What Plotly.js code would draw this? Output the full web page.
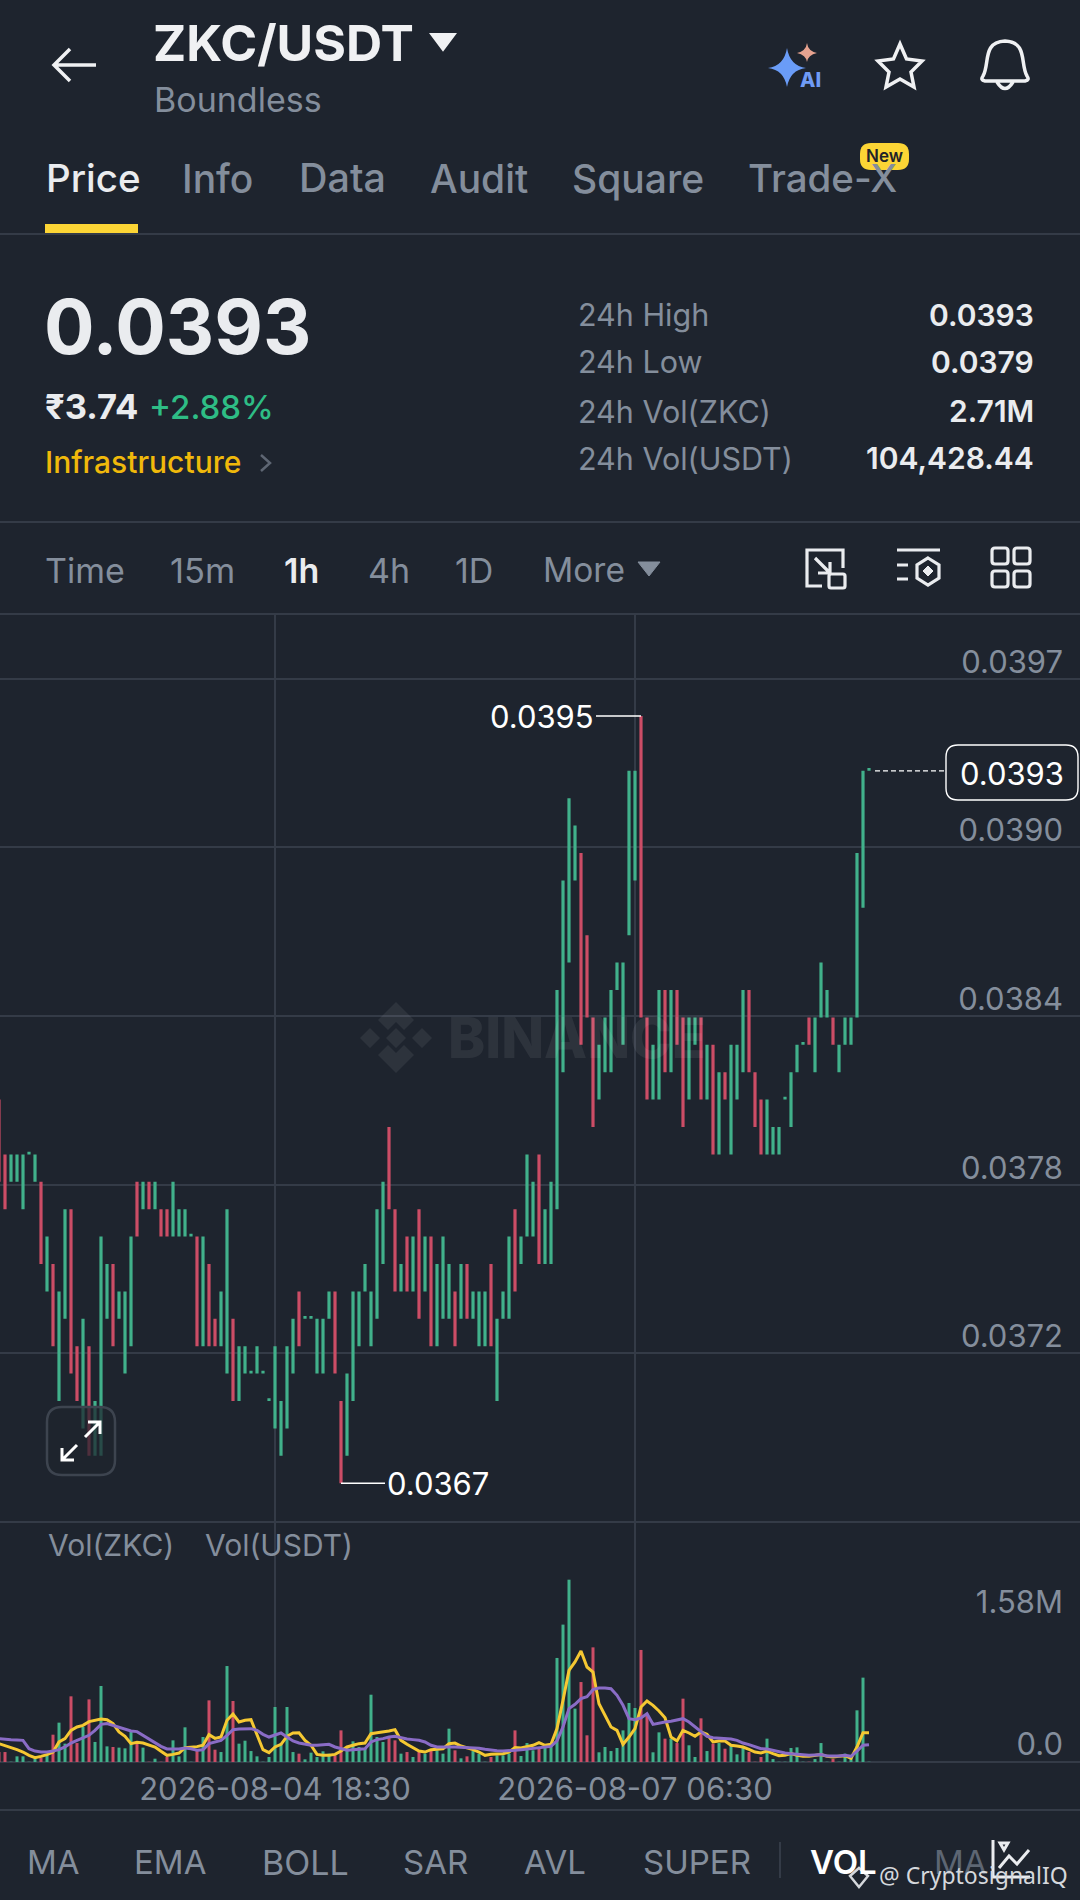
<!DOCTYPE html>
<html><head><meta charset="utf-8">
<script src="https://cdn.plot.ly/plotly-3.0.1.min.js"></script>
<style>html,body{margin:0;padding:0;background:#1e242e}#c{width:1080px;height:1900px}</style></head>
<body><div id="c"></div>
<script>
const startTime = '2026-08-02T20:30:00Z';
const candleHigh = [
0.0381,0.0379,0.0379,0.0379,0.0379,0.03791,0.0379,0.0378,0.0376,0.0375,
0.0374,0.0377,0.0377,0.0372,0.0373,0.0372,0.0370,0.0376,0.0375,0.0375,
0.0374,0.0374,0.0376,0.0378,0.0378,0.0378,0.0378,0.0377,0.0377,0.0378,
0.0377,0.0377,0.03761,0.0376,0.0376,0.0375,0.0373,0.0374,0.0377,0.0373,
0.0372,0.0372,0.03711,0.0372,0.03711,0.03701,0.0372,0.0370,0.0372,0.0373,
0.0374,0.03731,0.03731,0.0373,0.0373,0.0374,0.0374,0.0370,0.0371,0.0374,
0.0374,0.0375,0.0374,0.0377,0.0378,0.0380,0.0377,0.0375,0.0376,0.0376,
0.0377,0.0376,0.0376,0.0375,0.0376,0.0375,0.0374,0.0375,0.0375,0.0374,
0.0374,0.0374,0.0375,0.0373,0.0374,0.0376,0.0377,0.0376,0.0379,0.0378,
0.0379,0.0377,0.0378,0.0385,0.0389,0.0392,0.0391,0.0390,0.0387,0.0384,
0.0383,0.0384,0.0385,0.0386,0.0386,0.0393,0.0393,0.0395,0.0384,0.0383,
0.0385,0.0385,0.0385,0.0385,0.0384,0.0384,0.0384,0.0384,0.0383,0.0383,
0.0382,0.0382,0.0383,0.0383,0.0385,0.0385,0.0382,0.0381,0.0381,0.0380,
0.0380,0.03811,0.0382,0.0383,0.03831,0.0384,0.0384,0.0386,0.0385,0.0384,
0.0383,0.0384,0.0384,0.0390,0.0393,0.03931];
const candleLow = [
0.0378,0.0377,0.0378,0.0378,0.0377,0.0379,0.0378,0.0375,0.0374,0.0372,
0.0370,0.0373,0.0371,0.0370,0.0369,0.0368,0.0368,0.0368,0.0373,0.0372,
0.0373,0.0371,0.0372,0.0376,0.0377,0.0377,0.0377,0.0376,0.0376,0.0376,
0.0376,0.0376,0.0376,0.0372,0.0372,0.0372,0.0372,0.0372,0.0371,0.0370,
0.0370,0.0371,0.0371,0.0371,0.0371,0.0370,0.0369,0.0368,0.0369,0.0371,
0.0372,0.0373,0.0373,0.0371,0.0371,0.0373,0.0371,0.0367,0.0368,0.0370,
0.0372,0.0374,0.0372,0.0373,0.0375,0.0377,0.0374,0.0374,0.0374,0.0374,
0.0373,0.0374,0.0372,0.0372,0.0373,0.0373,0.0372,0.0373,0.0373,0.0373,
0.0372,0.0372,0.0372,0.0370,0.0373,0.0373,0.0374,0.0375,0.0376,0.0376,
0.0375,0.0375,0.0375,0.0377,0.0382,0.0386,0.0389,0.0383,0.0384,0.0380,
0.0381,0.0382,0.0382,0.0385,0.0383,0.0387,0.0389,0.0384,0.0381,0.0381,
0.0381,0.0382,0.0382,0.0383,0.0380,0.0381,0.0383,0.0381,0.0381,0.0379,
0.0379,0.0381,0.0379,0.0381,0.0382,0.0382,0.0380,0.0379,0.0379,0.0379,
0.0379,0.0381,0.0380,0.0382,0.0383,0.0383,0.0382,0.0384,0.0384,0.0383,
0.0382,0.0383,0.0383,0.0384,0.0388,0.0393];
const candleUp = [
0,0,1,1,1,1,1,0,1,0, 1,1,0,0,1,0,1,1,1,0, 1,1,1,0,1,0,1,0,0,1, 1,1,1,0,1,0,0,1,1,0,
1,1,1,1,1,1,1,1,1,1, 0,1,1,1,1,1,0,0,1,1, 1,1,1,1,1,0,0,1,0,1, 0,1,0,1,1,1,0,1,0,1,
1,1,0,1,1,1,0,1,1,1, 0,1,1,1,1,1,1,0,0,0, 1,1,1,1,1,1,1,0,0,1, 1,0,1,0,0,1,1,0,1,0,
1,0,1,1,1,0,0,0,1,1, 1,1,1,1,1,0,1,1,1,0, 1,1,1,1,1,1];
const volumeK = [
111,111,3,63,63,3,37,48,74,304, 438,204,731,211,390,697,223,846,174,167,
160,152,334,204,160,3,37,3,56,241, 63,386,3,130,278,686,137,111,1068,679,
204,237,122,63,3,56,612,204,612,111, 93,30,104,56,119,93,74,352,167,230,
167,148,749,278,223,278,241,93,111,56, 111,93,130,130,93,371,130,41,63,122,
93,3,56,74,74,93,352,67,211,130, 148,167,197,1158,1529,2029,594,890,297,1276,
108,167,122,156,352,657,601,1247,538,108, 330,260,260,211,705,186,56,486,122,204,
211,148,186,85,167,111,3,56,260,33, 3,3,156,163,3,3,33,211,3,33,
3,93,56,575,939,3];
const maFastK = [
204,186,160,137,111,74,48,63,82,111, 223,260,352,390,408,449,464,479,471,427,
334,286,204,219,211,186,167,119,74,85, 100,160,163,171,186,304,263,278,464,534,
445,464,471,297,137,104,167,197,286,323, 326,241,186,85,74,74,85,122,167,186,
204,211,315,326,334,345,360,241,197,160, 122,111,137,141,148,204,211,178,160,137,
111,74,85,93,93,111,160,156,174,186, 215,186,197,371,686,1020,1113,1235,1057,1002,
649,519,390,352,197,278,371,612,679,631, 568,493,278,234,352,323,286,334,308,223,
234,234,186,178,167,141,111,100,122,93, 70,74,93,74,63,63,70,82,63,56,
63,70,41,167,326,326];
const maSlowK = [
260,252,249,245,241,148,122,111,111,122, 137,167,211,241,271,297,352,419,427,408,
382,367,345,338,297,260,223,174,145,145, 145,156,148,130,137,204,223,241,297,360,
367,371,371,352,308,278,304,323,278,234, 211,197,186,186,193,197,167,145,130,137,
145,148,223,249,260,278,286,267,256,249, 241,223,186,167,163,167,167,163,163,160,
152,141,130,126,122,122,130,137,145,148, 156,163,174,234,390,594,642,705,727,805,
824,824,816,742,631,482,471,490,538,419, 434,445,453,464,482,445,390,334,286,271,
267,263,256,241,211,193,174,148,145,130, 111,100,93,85,78,74,78,82,67,63,
67,74,63,122,186,193];
const dateTicks = ['2026-08-04 18:30','2026-08-07 06:30'];
const priceTicks = [0.039635,0.039022,0.038405,0.037788,0.037175,0.036558];
const priceTickLabels = ['0.0397','0.0390','0.0384','0.0378','0.0372','0.0365'];
const volumeTicks = [0,1580000];
const volumeTickLabels = ['0.0','1.58M'];
const stats = [['24h High','0.0393'],['24h Low','0.0379'],['24h Vol(ZKC)','2.71M'],['24h Vol(USDT)','104,428.44']];

const W=1080,H=1900, BG='#1e242e', GRID='#343b47', GREY='#848e9c', WHITE='#eaecef', UP='#41b18b', DOWN='#cc4d66';
const FONT='Inter, "Open Sans", sans-serif';
const HOUR=3600000, t0=Date.parse(startTime);
const iso=ms=>new Date(ms).toISOString().replace('T',' ').slice(0,19);
const times=candleHigh.map((_,i)=>iso(t0+i*HOUR));
const pxToTime=px=>iso(t0+((px+1)/6)*HOUR);
const fx=x=>x/W, fy=y=>1-y/H;
const P=d=>d.replace(/(-?[\d.]+)[ ,](-?[\d.]+)/g,(m,a,b)=>fx(+a)+' '+fy(+b));
function pathShape(d,o){o=o||{};return {type:'path',xref:'paper',yref:'paper',path:P(d),line:{color:o.stroke||'rgba(0,0,0,0)',width:o.width===undefined?3:o.width},fillcolor:o.fill||'rgba(0,0,0,0)',layer:o.layer||'above'};}
function rr(x0,y0,x1,y1,r){return `M${x0+r} ${y0} L${x1-r} ${y0} Q${x1} ${y0} ${x1} ${y0+r} L${x1} ${y1-r} Q${x1} ${y1} ${x1-r} ${y1} L${x0+r} ${y1} Q${x0} ${y1} ${x0} ${y1-r} L${x0} ${y0+r} Q${x0} ${y0} ${x0+r} ${y0} Z`;}
function hline(y,c){return {type:'line',xref:'paper',yref:'paper',x0:0,x1:1,y0:fy(y),y1:fy(y),line:{color:c||GRID,width:2},layer:'below'};}
function T(text,x,y,size,color,anchor,weight,font){return {text,xref:'paper',yref:'paper',x:fx(x),y:fy(y),xanchor:anchor||'left',yanchor:'middle',showarrow:false,font:{size,color,family:font||FONT,weight:weight||400},align:anchor||'left',borderpad:0};}

const annotations=[
 T('ZKC/USDT',152,43,50,'#f0f1f3','left',700),
 T('Boundless',153,100,34,GREY),
 T('Price',45,178,38.5,WHITE,'left',500),
 T('Info',181,178,39,GREY,'left',500),
 T('Data',298,178,39.5,GREY,'left',500),
 T('Audit',429,178,39,GREY,'left',500),
 T('Square',571,178,39,GREY,'left',500),
 T('Trade-X',747,178,38.5,GREY,'left',500),
 T('New',884.5,156,17,'#1e2329','center',600),
 T('AI',810,80,20,'#6f9bf5','center',800),
 T('0.0393',43,326,75,WHITE,'left',700),
 T('₹3.74',44,407,34.5,WHITE,'left',700),
 T('+2.88%',148,407,33,'#2ebd85','left',500),
 T('Infrastructure',44,462,30,'#f0b90b','left',500),
 T('Time',44,570,34,GREY),T('15m',169,570,34.5,GREY),T('1h',283,570,34,WHITE,'left',600),
 T('4h',367,570,34,GREY),T('1D',454,570,34,GREY),T('More',542,570,33.5,GREY),
 T('Vol(ZKC)',47,1545,30,GREY),T('Vol(USDT)',204,1545,30,GREY),
 T('BINANCE',447,1038,56,'rgba(255,255,255,0.07)','left',800),
 T('0.0393',1012,773,31,'#ffffff','center'),
 T('MA',26,1862,33,GREY),T('EMA',133,1862,33,GREY),T('BOLL',261,1862,34,GREY),T('SAR',402,1862,33,GREY),
 T('AVL',523,1862,33,GREY),T('SUPER',642,1862,33,GREY),T('VOL',809,1862,33,'#ffffff','left',600),T('MA',933,1862,33,'#5d6673'),
 T('@ CryptosignalIQ',878,1875,23,'#d5d8dc','left',400,'"Noto Sans", sans-serif'),
 {xref:'x',yref:'y',x:times[107],y:0.0395,ax:-45,ay:0,axref:'pixel',ayref:'pixel',text:'0.0395',showarrow:true,arrowhead:0,arrowwidth:1.5,arrowcolor:'#ffffff',xanchor:'right',yanchor:'middle',font:{size:31,color:'#ffffff',family:FONT},standoff:0,startstandoff:0},
 {xref:'x',yref:'y',x:times[57],y:0.0367,ax:44,ay:0,axref:'pixel',ayref:'pixel',text:'0.0367',showarrow:true,arrowhead:0,arrowwidth:1.5,arrowcolor:'#ffffff',xanchor:'left',yanchor:'middle',font:{size:31,color:'#ffffff',family:FONT},standoff:0,startstandoff:0}
];
stats.forEach((s,i)=>{const y=[315,362,411,458][i];
 annotations.push(T(s[0],577,y,30.5,GREY)); annotations.push(T(s[1],1035,y,30,WHITE,'right',600));});

const shapes=[
 hline(234),hline(522),hline(614),hline(1522),hline(1810),
 pathShape('M96 65 L54 65 M70 49 L54 65 L70 81',{stroke:'#f0f1f3',width:3.5}),
 pathShape('M431 34 L455 34 L443 50 Z',{fill:'#f0f1f3',stroke:'#f0f1f3',width:2}),
 pathShape('M787 48 Q790 66 806 68 Q790 70 787 87 Q784 70 768 68 Q784 66 787 48 Z',{fill:'#6a9cf7'}),
 pathShape('M807 43 Q808 51 817 53 Q808 55 807 62 Q806 55 797 53 Q806 51 807 43 Z',{fill:'#e6a28f'}),
 pathShape('M900 44 L906.5 59 L922 61 L911 72 L914 87 L900 79 L886 87 L889 72 L878 61 L893.5 59 Z',{stroke:'#f0f1f3',width:3.5}),
 pathShape('M983 76 C990 64 982 42 1005 41 C1028 42 1020 64 1027 76 Q1030 80 1025 81 L985 81 Q980 80 983 76 Z M997 82 Q1005 95 1013 82',{stroke:'#f0f1f3',width:3.5}),
 {type:'rect',xref:'paper',yref:'paper',x0:fx(45),x1:fx(138),y0:fy(224),y1:fy(233),fillcolor:'#fcd535',line:{width:0},layer:'above'},
 pathShape(rr(860,143,909,170,11),{fill:'#fcd535'}),
 pathShape('M261 455 L270 463 L261 471',{stroke:'#5e6673',width:2.5}),
 pathShape('M638 562 L660 562 L649 576 Z',{fill:GREY,stroke:GREY,width:1}),
 // chart toolbar icons
 pathShape('M843 568 L843 550 L807 550 L807 586 L822 586 M815 558 L830 573 M830 562 L830 573 L818 573',{stroke:WHITE,width:3.2}),
 pathShape(rr(829,574,845,588,2),{stroke:WHITE,width:3.2}),
 pathShape('M897 550 L940 550 M897 565 L908 565 M897 579 L908 579 M928 558 L939 565 L939 578 L928 585 L917 578 L917 565 Z',{stroke:WHITE,width:3.2}),
 pathShape('M928 566 L933 571 L928 576 L923 571 Z',{fill:WHITE,stroke:WHITE,width:1}),
 pathShape(rr(992,548,1008,564,3),{stroke:WHITE,width:3.2}),pathShape(rr(1014,548,1030,564,3),{stroke:WHITE,width:3.2}),
 pathShape(rr(992,571,1008,587,3),{stroke:WHITE,width:3.2}),pathShape(rr(1014,571,1030,587,3),{stroke:WHITE,width:3.2}),
 // last price marker
 {type:'line',xref:'paper',yref:'y',x0:fx(875),x1:fx(946),y0:0.0393,y1:0.0393,line:{color:'#ffffff',width:1.2,dash:'5px,3px'},layer:'above'},
 pathShape(rr(946,745,1078,800,12),{stroke:'#ffffff',width:1.4,fill:BG}),
 // fullscreen button
 pathShape(rr(47,1407,115,1475,15),{stroke:'#3d444f',width:2.5,fill:'rgba(30,36,46,0.72)'}),
 pathShape('M62 1460 L77 1445 M62 1448 L62 1460 L74 1460 M85 1437 L100 1422 M88 1422 L100 1422 L100 1434',{stroke:'#ffffff',width:3}),
 // watermark logos
 pathShape('M396 1002 L414 1020 L404 1030 L396 1022 L388 1030 L378 1020 Z M396 1073 L378 1055 L388 1045 L396 1053 L404 1045 L414 1055 Z M370 1028 L380 1038 L370 1048 L360 1038 Z M422 1028 L432 1038 L422 1048 L412 1038 Z M396 1028 L406 1038 L396 1048 L386 1038 Z',{fill:'rgba(255,255,255,0.07)'}),
 pathShape('M859 1868 L868 1876 L859 1887 L850 1876 Z',{stroke:'#d5d8dc',width:2.5}),
 // bottom bar
 {type:'line',xref:'paper',yref:'paper',x0:fx(780),x1:fx(780),y0:fy(1842),y1:fy(1878),line:{color:GRID,width:2},layer:'above'},
 pathShape('M993 1840 L993 1877 L1030 1877 M999 1868 L1009 1856 L1017 1864 L1029 1850 M1000 1843 L1008 1843 L1004 1850 Z',{stroke:'#eaecef',width:3})
];

const traces=[
 {type:'candlestick',x:times,
  open:candleLow.map((l,i)=>candleUp[i]?l:candleHigh[i]),
  close:candleHigh.map((h,i)=>candleUp[i]?h:candleLow[i]),
  high:candleHigh,low:candleLow,xaxis:'x',yaxis:'y',
  increasing:{line:{color:UP,width:0},fillcolor:UP},decreasing:{line:{color:DOWN,width:0},fillcolor:DOWN},showlegend:false,hoverinfo:'skip'},
 {type:'bar',x:times,y:volumeK.map(v=>v*1000),xaxis:'x',yaxis:'y2',width:HOUR*0.5,
  marker:{color:candleUp.map(u=>u?UP:DOWN),line:{width:0}},showlegend:false,hoverinfo:'skip'},
 {type:'scatter',mode:'lines',x:times,y:maFastK.map(v=>v*1000),xaxis:'x',yaxis:'y2',line:{color:'#f5c832',width:3},showlegend:false,hoverinfo:'skip'},
 {type:'scatter',mode:'lines',x:times,y:maSlowK.map(v=>v*1000),xaxis:'x',yaxis:'y2',line:{color:'#8a6cc6',width:3},showlegend:false,hoverinfo:'skip'}
];

const layout={
 width:W,height:H,paper_bgcolor:BG,plot_bgcolor:'rgba(0,0,0,0)',showlegend:false,
 margin:{l:0,r:0,t:0,b:0,autoexpand:false},boxgap:0.47,boxgroupgap:0,boxmode:'overlay',bargap:0.5,
 xaxis:{type:'date',anchor:'y2',domain:[0,1],range:[pxToTime(0),pxToTime(1080)],rangeslider:{visible:false},
  tickmode:'array',tickvals:dateTicks,ticktext:dateTicks,showgrid:true,gridcolor:GRID,gridwidth:1.4,zeroline:false,showline:false,ticks:'',
  tickfont:{size:31,color:GREY,family:FONT},ticklabelstandoff:6,fixedrange:true},
 yaxis:{domain:[fy(1522),fy(614)],range:[0.0395-(1522-716)/274000,0.0395+(716-614)/274000],side:'right',anchor:'x',
  tickmode:'array',tickvals:priceTicks,ticktext:priceTickLabels,ticklabelposition:'inside',ticklabeloverflow:'allow',ticklabelshift:-17,ticklabelstandoff:14,
  showgrid:true,gridcolor:GRID,gridwidth:1.4,zeroline:false,showline:false,ticks:'',tickfont:{size:31,color:GREY,family:FONT},fixedrange:true},
 yaxis2:{domain:[fy(1762),fy(1522)],range:[0,2671000],side:'right',anchor:'x',
  tickmode:'array',tickvals:volumeTicks,ticktext:volumeTickLabels,ticklabelposition:'inside',ticklabeloverflow:'allow',ticklabelshift:-18,ticklabelstandoff:14,
  showgrid:false,zeroline:true,zerolinecolor:GRID,zerolinewidth:1.4,showline:false,ticks:'',tickfont:{size:31,color:GREY,family:FONT},fixedrange:true},
 shapes,annotations
};
Plotly.newPlot('c',traces,layout,{displayModeBar:false,staticPlot:true});
</script></body></html>
